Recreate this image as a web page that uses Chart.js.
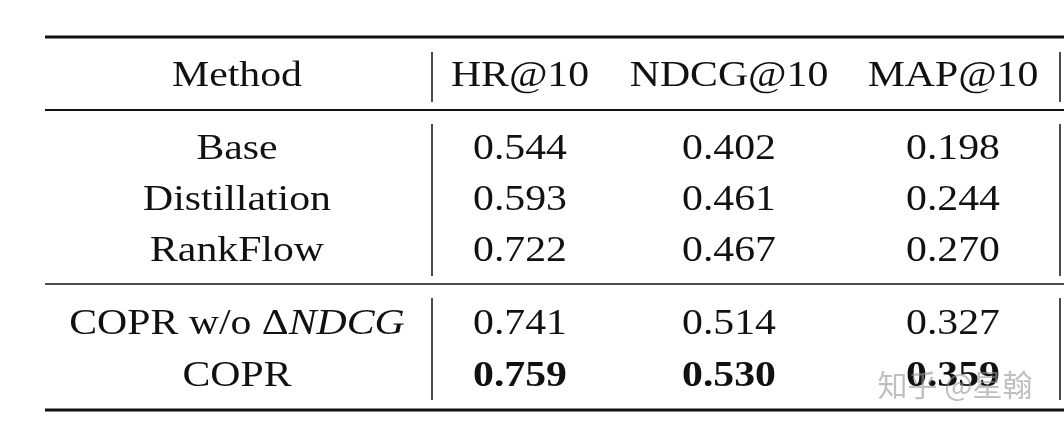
<!DOCTYPE html>
<html>
<head>
<meta charset="utf-8">
<script src="https://cdn.jsdelivr.net/npm/chart.js@4/dist/chart.umd.min.js"></script>
<style>
body{margin:0;background:#fff}
#wrap{width:1064px;height:432px}
</style>
</head>
<body>
<div id="wrap"><canvas id="TableChart"></canvas></div>
<script>
const columns = ['Method', 'HR@10', 'NDCG@10', 'MAP@10'];
const methods = ['Base', 'Distillation', 'RankFlow', 'COPR w/o ΔNDCG', 'COPR'];
const hr = ['0.544', '0.593', '0.722', '0.741', '0.759'];
const ndcg = ['0.402', '0.461', '0.467', '0.514', '0.530'];
const map = ['0.198', '0.244', '0.270', '0.327', '0.359'];
const boldRow = 4;

// layout (pixel space of the page)
const colX = [237, 520, 729, 953];
const headerY = 77;
const rowY = [150, 201, 252, 325, 377];
const font = '"Liberation Serif", "DejaVu Serif", serif';
const stretch = 1.16;

const tablePlugin = {
  id: 'table',
  afterDraw(chart) {
    const c = chart.ctx, xs = chart.scales.x, ys = chart.scales.y;
    const X = v => xs.getPixelForValue(v), Y = v => ys.getPixelForValue(v);
    c.save();
    c.strokeStyle = '#111';
    function hline(y, w) { c.lineWidth = w; c.beginPath(); c.moveTo(X(45), Y(y)); c.lineTo(X(1064), Y(y)); c.stroke(); }
    hline(37, 3); hline(110, 2); hline(284, 1.5); hline(410, 3);
    c.lineWidth = 1.5;
    [[52, 102], [124, 276], [298, 400]].forEach(s => {
      [432, 1060].forEach(x => { c.beginPath(); c.moveTo(X(x), Y(s[0])); c.lineTo(X(x), Y(s[1])); c.stroke(); });
    });
    c.fillStyle = '#111';
    c.textBaseline = 'middle';
    // draw centred text with a horizontal stretch (parts = [[text, font], ...])
    function txt(parts, cx, cy) {
      let w = 0;
      parts.forEach(p => { c.font = p[1]; w += c.measureText(p[0]).width; });
      c.save();
      c.translate(cx, cy);
      c.scale(stretch, 1);
      let x0 = -w / 2;
      c.textAlign = 'left';
      parts.forEach(p => { c.font = p[1]; c.fillText(p[0], x0, 0); x0 += c.measureText(p[0]).width; });
      c.restore();
    }
    const reg = '36px ' + font;
    columns.forEach((t, i) => txt([[t, reg]], X(colX[i]), Y(headerY)));
    const cols = [methods, hr, ndcg, map];
    rowY.forEach((y, r) => {
      cols.forEach((arr, i) => {
        const t = arr[r];
        if (i === 0 && t.includes('ΔNDCG')) {
          txt([[t.replace('NDCG', ''), reg], ['NDCG', 'italic ' + reg]], X(colX[i]), Y(y));
          return;
        }
        txt([[t, (r === boldRow && i > 0 ? 'bold ' : '') + reg]], X(colX[i]), Y(y));
      });
    });
    c.fillStyle = 'rgba(150,150,150,0.6)';
    c.font = '30px "Noto Sans CJK SC", sans-serif';
    c.textAlign = 'center';
    c.fillText('知乎 @星翰', X(955), Y(385));
    c.restore();
  }
};

new Chart(document.getElementById('TableChart'), {
  type: 'scatter',
  data: { datasets: [{ data: [], pointRadius: 0 }] },
  options: {
    responsive: true,
    maintainAspectRatio: false,
    animation: false,
    layout: { padding: 0 },
    plugins: { legend: { display: false }, tooltip: { enabled: false } },
    scales: {
      x: { type: 'linear', min: 0, max: 1064, display: false },
      y: { type: 'linear', min: 0, max: 432, reverse: true, display: false }
    }
  },
  plugins: [tablePlugin]
});
</script>
</body>
</html>
